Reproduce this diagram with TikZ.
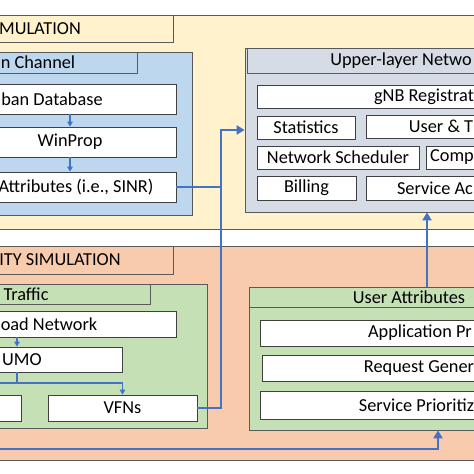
\documentclass[tikz,border=0pt]{standalone}
\usepackage{fontspec}
\setmainfont{Carlito}
\usetikzlibrary{arrows.meta}

\definecolor{simyellow}{HTML}{FFF2CC}
\definecolor{chanblue}{HTML}{BDD7EE}
\definecolor{netgray}{HTML}{D6DCE5}
\definecolor{mobpeach}{HTML}{F8CBAD}
\definecolor{trafgreen}{HTML}{C5E0B4}
\definecolor{linkblue}{HTML}{4472C4}

\begin{document}
\begin{tikzpicture}[x=1pt,y=-1pt,
	frame/.style={draw=black!65, line width=0.8pt},
	wbox/.style={draw=black!75, fill=white, line width=0.7pt, inner sep=0pt,
		font=\fontsize{18.3}{20}\selectfont},
	tab/.style={wbox, draw=black!65, fill=#1},
	link/.style={linkblue, line width=2.9pt, -{Triangle[width=9pt,length=8pt]}},
	thinlink/.style={linkblue, line width=1.4pt, -{Triangle[width=5.5pt,length=5pt]}}]

	\useasboundingbox (0,0) rectangle (474,474);
	\fill[white] (0,0) rectangle (474,474);
	\clip (0,0) rectangle (474,474);

	%network simulation part
	\draw[frame, fill=simyellow] (-10,15) rectangle (484,229);
	\node[tab=simyellow, minimum width=266, minimum height=27] (nettab) at (40,28.5) {MULATION};
	\draw[frame, fill=chanblue] (-10,52) rectangle (192,215);
	\node[tab=chanblue, minimum width=198, minimum height=21] (chantab) at (38,62.5) {n Channel};
	\node[wbox, minimum width=248, minimum height=30] (db) at (52,99) {ban Database};
	\node[wbox, minimum width=212, minimum height=30] (winprop) at (70,142) {WinProp};
	\node[wbox, minimum width=200, minimum height=30] (attr) at (76,187) {Attributes (i.e., SINR)};

	%upper-layer network box
	\node[tab=netgray, minimum width=308, minimum height=164] (upper) at (399,130) {};
	\node[tab=netgray, minimum width=308, minimum height=25] (uppertab) at (401,60.5) {Upper-layer Netwo};
	\node[wbox, minimum width=334, minimum height=23] (gnb) at (424,96.5) {gNB Registrat};
	\node[wbox, minimum width=98, minimum height=23] (stats) at (306,127.5) {Statistics};
	\node[wbox, minimum width=150, minimum height=23] (usertr) at (441,126.5) {User \& T};
	\node[wbox, minimum width=162, minimum height=23] (sched) at (338,157.5) {Network Scheduler};
	\node[wbox, minimum width=52, minimum height=23] (comp) at (452,157.5) {Comp};
	\node[wbox, minimum width=99, minimum height=24] (billing) at (306.5,188) {Billing};
	\node[wbox, minimum width=138, minimum height=24] (svcacc) at (435,188) {Service Ac};

	%mobility simulation part
	\draw[frame, fill=mobpeach] (-10,246) rectangle (484,460);
	\node[tab=mobpeach, minimum width=226, minimum height=28] (mobtab) at (60,260) {ITY SIMULATION};
	\draw[frame, fill=trafgreen] (-10,284) rectangle (207,428);
	\node[tab=trafgreen, minimum width=248, minimum height=20] (traftab) at (26,294) {Traffic};
	\node[wbox, minimum width=254, minimum height=26] (road) at (49,324) {oad Network};
	\node[wbox, minimum width=200, minimum height=25] (sumo) at (22,359.5) {UMO};
	\node[wbox, minimum width=61, minimum height=26] (leftbox) at (-9.5,408) {};
	\node[wbox, minimum width=149, minimum height=26] (vfns) at (122.5,408) {VFNs};

	%user attributes box
	\node[tab=trafgreen, minimum width=320, minimum height=143] (ua) at (409,358.5) {};
	\node[tab=trafgreen, minimum width=320, minimum height=20] (uatab) at (409,297) {User Attributes};
	\node[wbox, minimum width=320, minimum height=26] (app) at (420,333) {Application Pr};
	\node[wbox, minimum width=314, minimum height=26] (req) at (419,368) {Request Gener};
	\node[wbox, minimum width=313, minimum height=28] (prio) at (416.5,405) {Service Prioritiz};

	%connectors
	\coordinate (tap) at (17,383);
	\coordinate (lend) at (-10,383);
	\coordinate (bus) at (221,130);
	\coordinate (upin) at (427,220);
	\coordinate (bstart) at (-10,449);
	\coordinate (bin) at (438,449);

	\draw[thinlink] (db.south -| winprop) -- (winprop.north);
	\draw[thinlink] (winprop.south) -- (winprop.south |- attr.north);
	\draw[thinlink] (road.south -| tap) -- (sumo.north -| tap);
	\draw[thinlink, -] (sumo.south -| tap) -- (tap);
	\draw[thinlink] (lend) -| (vfns.north);

	\draw[link] (attr.east) -| (bus) -- (upper.west);
	\draw[link, -] (vfns.east) -| (bus);
	\draw[link] (ua.north -| upin) -- (upper.south -| upin);
	\draw[link] (bstart) -- (bin) -- (ua.south -| bin);

\end{tikzpicture}
\end{document}
